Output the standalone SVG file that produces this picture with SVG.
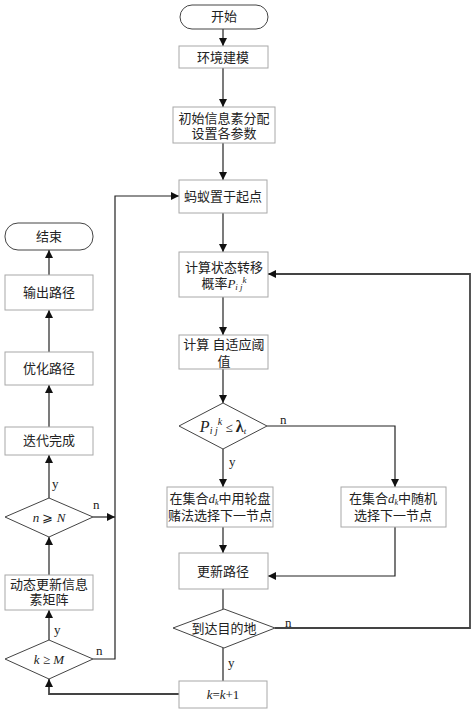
<svg xmlns="http://www.w3.org/2000/svg" width="474" height="712" viewBox="0 0 474 712">
<style>
.box{fill:#fff;stroke:#a8a8a8;stroke-width:1}
.dia{fill:#fff;stroke:#444;stroke-width:1}
.term{fill:#fff;stroke:#444;stroke-width:1}
.t{font-family:"Liberation Serif","Noto Sans CJK SC",serif;font-size:13px;fill:#222;text-anchor:middle}
.lb{font-family:"Liberation Serif",serif;font-size:13px;fill:#222}
.c{fill:none;stroke:#222;stroke-width:1.2}
.cb{fill:none;stroke:#444;stroke-width:1.8}
.i{font-style:italic}
</style>
<defs>
<marker id="ah" viewBox="0 0 10 10" refX="10" refY="5" markerWidth="8" markerHeight="8" markerUnits="userSpaceOnUse" orient="auto">
<path d="M0,0 L10,5 L0,10 z" fill="#111"/>
</marker>
</defs>
<g id="connectors">
<path class="c" d="M223,29 V46" marker-end="url(#ah)"/>
<path class="c" d="M223,68 V107" marker-end="url(#ah)"/>
<path class="c" d="M223,143 V180" marker-end="url(#ah)"/>
<path class="c" d="M223,213 V252" marker-end="url(#ah)"/>
<path class="c" d="M223,297 V335" marker-end="url(#ah)"/>
<path class="c" d="M223,369 V403" marker-end="url(#ah)"/>
<path class="c" d="M223,449 V487" marker-end="url(#ah)"/>
<path class="c" d="M267,426 H395 V487" marker-end="url(#ah)"/>
<path class="c" d="M223,527 V553" marker-end="url(#ah)"/>
<path class="c" d="M395,527 V576 H268" marker-end="url(#ah)"/>
<path class="c" d="M223,589 V609"/>
<path class="c" d="M223,648 V681"/>
<path class="cb" d="M275,628 H470 V274 H268" marker-end="url(#ah)"/>
<path class="cb" d="M179,694 H49 V679" marker-end="url(#ah)"/>
<path class="c" d="M49,640 V610" marker-end="url(#ah)"/>
<path class="c" d="M49,575 V537" marker-end="url(#ah)"/>
<path class="c" d="M49,498 V455" marker-end="url(#ah)"/>
<path class="c" d="M49,427 V385" marker-end="url(#ah)"/>
<path class="c" d="M49,352 V310" marker-end="url(#ah)"/>
<path class="c" d="M49,275 V250" marker-end="url(#ah)"/>
<path class="c" d="M93,517 H115" marker-end="url(#ah)"/>
<path class="c" d="M93,659 H115 V196 H179" marker-end="url(#ah)"/>
<text class="lb" x="280" y="424">n</text>
<text class="lb" x="229" y="466">y</text>
<text class="lb" x="285" y="627">n</text>
<text class="lb" x="228" y="667">y</text>
<text class="lb" x="52" y="488">y</text>
<text class="lb" x="93" y="509">n</text>
<text class="lb" x="54" y="634">y</text>
<text class="lb" x="96" y="655">n</text>
</g>
<g id="start"><rect class="term" x="180" y="5" width="88" height="24" rx="12"/><text class="t" x="224" y="21">开始</text></g>
<g id="env"><rect class="box" x="179" y="46" width="89" height="22"/><text class="t" x="223" y="62">环境建模</text></g>
<g id="init"><rect class="box" x="173" y="107" width="102" height="36"/><text class="t" x="224" y="123">初始信息素分配</text><text class="t" x="224" y="138">设置各参数</text></g>
<g id="ant"><rect class="box" x="179" y="180" width="88" height="33"/><text class="t" x="223" y="201">蚂蚁置于起点</text></g>
<g id="prob"><rect class="box" x="179" y="252" width="89" height="45"/><text class="t" x="224" y="272">计算状态转移</text><text class="t" x="224" y="288">概率<tspan class="i">P</tspan><tspan class="i" font-size="9" dy="2">i j</tspan><tspan class="i" font-size="9" dy="-7">k</tspan></text></g>
<g id="thr"><rect class="box" x="179" y="335" width="89" height="34"/><text class="t" x="224" y="349">计算 自适应阈</text><text class="t" x="224" y="366">值</text></g>
<g id="cmp"><polygon class="dia" points="179,426 223,403 267,426 223,449"/><text class="t" x="223" y="432"><tspan class="i" font-size="16">P</tspan><tspan class="i" font-size="10" dy="2">i j</tspan><tspan class="i" font-size="10" dy="-9">k</tspan><tspan dy="7"> ≤ </tspan><tspan font-size="16" font-weight="bold">λ</tspan><tspan class="i" font-size="9" dy="2">t</tspan></text></g>
<g id="wheel"><rect class="box" x="167" y="487" width="106" height="40"/><text class="t" x="220" y="503">在集合<tspan class="i">d</tspan><tspan class="i" font-size="8" dy="2">k</tspan><tspan dy="-2">中用轮盘</tspan></text><text class="t" x="220" y="520">赌法选择下一节点</text></g>
<g id="rand"><rect class="box" x="341" y="487" width="105" height="40"/><text class="t" x="393" y="503">在集合<tspan class="i">d</tspan><tspan class="i" font-size="8" dy="2">k</tspan><tspan dy="-2">中随机</tspan></text><text class="t" x="393" y="520">选择下一节点</text></g>
<g id="upd"><rect class="box" x="179" y="553" width="89" height="36"/><text class="t" x="223" y="576">更新路径</text></g>
<g id="dest"><polygon class="dia" points="173,628 224,609 275,628 224,648"/><text class="t" x="224" y="633">到达目的地</text></g>
<g id="inc"><rect class="box" x="179" y="681" width="88" height="27"/><text class="t" x="223" y="699"><tspan class="i">k</tspan>=<tspan class="i">k</tspan>+1</text></g>
<g id="end"><rect class="term" x="5" y="223" width="88" height="27" rx="13"/><text class="t" x="49" y="241">结束</text></g>
<g id="out"><rect class="box" x="5" y="275" width="88" height="35"/><text class="t" x="49" y="297">输出路径</text></g>
<g id="opt"><rect class="box" x="5" y="352" width="88" height="33"/><text class="t" x="49" y="373">优化路径</text></g>
<g id="iter"><rect class="box" x="5" y="427" width="88" height="28"/><text class="t" x="49" y="445">迭代完成</text></g>
<g id="nN"><polygon class="dia" points="5,517 49,498 93,517 49,537"/><text class="t" x="49" y="522"><tspan class="i">n</tspan> ⩾ <tspan class="i">N</tspan></text></g>
<g id="dyn"><rect class="box" x="5" y="575" width="88" height="35"/><text class="t" x="49" y="589">动态更新信息</text><text class="t" x="49" y="604">素矩阵</text></g>
<g id="kM"><polygon class="dia" points="5,659 49,640 93,659 49,679"/><text class="t" x="49" y="664"><tspan class="i">k</tspan> ≥ <tspan class="i">M</tspan></text></g>
</svg>
